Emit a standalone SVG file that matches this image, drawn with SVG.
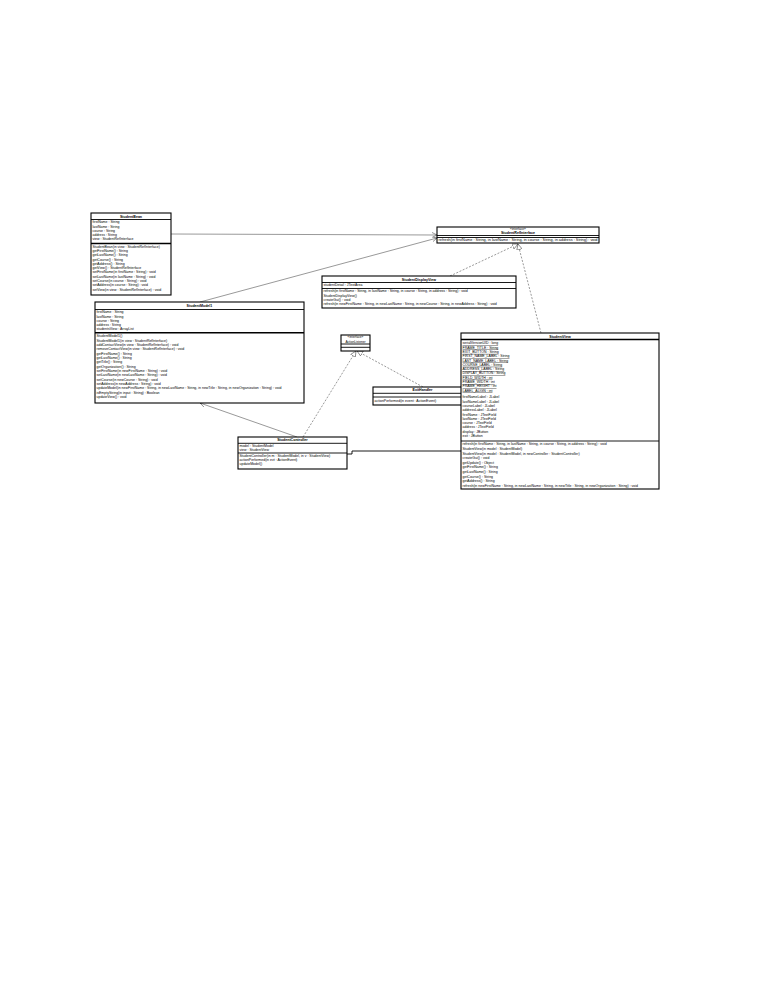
<svg xmlns="http://www.w3.org/2000/svg" width="768" height="994" viewBox="0 0 768 994">
<style>
.bx{fill:#fff;stroke:#000;stroke-width:1.1}
.sp{stroke:#000;stroke-width:0.9}
.sp2{stroke:#000;stroke-width:1.4}
.t{font-family:"Liberation Sans",Arial,sans-serif;font-size:3.5px;fill:#000}
.h{font-family:"Liberation Sans",Arial,sans-serif;font-size:3.6px;font-weight:bold;text-anchor:middle;fill:#000}
.s{font-family:"Liberation Sans",Arial,sans-serif;font-size:3.2px;text-anchor:middle;fill:#000}
.u{text-decoration:underline}
.ln{fill:none;stroke:#333;stroke-width:0.5}
.lk{fill:none;stroke:#000;stroke-width:0.9}
.dl{fill:none;stroke:#333;stroke-width:0.5;stroke-dasharray:2,1.5}
</style>
<defs>
<marker id="op" viewBox="0 0 5 5" refX="5" refY="2.5" markerWidth="5" markerHeight="5" markerUnits="userSpaceOnUse" orient="auto">
<path d="M0,0 L5,2.5 L0,5" fill="none" stroke="#333" stroke-width="0.5"/>
</marker>
<marker id="tr" viewBox="0 0 6 6" refX="6" refY="3" markerWidth="6" markerHeight="6" markerUnits="userSpaceOnUse" orient="auto">
<path d="M0.3,0.3 L6,3 L0.3,5.7 z" fill="#fff" stroke="#333" stroke-width="0.5"/>
</marker>
</defs>
<rect width="768" height="994" fill="#fff"/>

<g id="connectors">
<line class="ln" x1="171" y1="234" x2="437" y2="235" marker-end="url(#op)"/>
<line class="ln" x1="200" y1="302" x2="437" y2="238" marker-end="url(#op)"/>
<line class="dl" x1="450" y1="276" x2="518" y2="244" marker-end="url(#tr)"/>
<line class="dl" x1="541" y1="333" x2="518" y2="244" marker-end="url(#tr)"/>
<line class="ln" x1="297" y1="437" x2="200" y2="403" marker-end="url(#op)"/>
<line class="dl" x1="303" y1="437" x2="356" y2="351" marker-end="url(#tr)"/>
<line class="dl" x1="423" y1="387" x2="357" y2="351" marker-end="url(#tr)"/>
<polyline class="lk" points="347,454 352,454 352,451 461,451"/>
</g>

<g id="StudentBean">
<rect class="bx" x="91" y="213" width="80" height="82"/>
<line class="sp" x1="91" y1="219.5" x2="171" y2="219.5"/>
<line class="sp2" x1="91" y1="243.5" x2="171" y2="243.5"/>
<text class="h" x="131" y="217.6">StudentBean</text>
<text class="t" x="92.5" y="223.3">firstName : String</text>
<text class="t" x="92.5" y="227.5">lastName : String</text>
<text class="t" x="92.5" y="231.7">course : String</text>
<text class="t" x="92.5" y="235.9">address : String</text>
<text class="t" x="92.5" y="240.1">view : StudentRefInterface</text>
<text class="t" x="92.5" y="247.6">StudentBean(in view : StudentRefInterface)</text>
<text class="t" x="92.5" y="251.9">getFirstName() : String</text>
<text class="t" x="92.5" y="256.2">getLastName() : String</text>
<text class="t" x="92.5" y="260.5">getCourse() : String</text>
<text class="t" x="92.5" y="264.8">getAddress() : String</text>
<text class="t" x="92.5" y="269.1">getView() : StudentRefInterface</text>
<text class="t" x="92.5" y="273.4">setFirstName(in firstName : String) : void</text>
<text class="t" x="92.5" y="277.7">setLastName(in lastName : String) : void</text>
<text class="t" x="92.5" y="282.0">setCourse(in course : String) : void</text>
<text class="t" x="92.5" y="286.3">setAddress(in course : String) : void</text>
<text class="t" x="92.5" y="290.6">setView(in view : StudentRefInterface) : void</text>
</g>

<g id="StudentRefInterface">
<rect class="bx" x="437" y="227" width="162" height="16"/>
<line class="sp" x1="437" y1="235.5" x2="599" y2="235.5"/>
<line class="sp" x1="437" y1="237.5" x2="599" y2="237.5"/>
<text class="s" x="518" y="230.2">«interface»</text>
<text class="h" x="518" y="234.3">StudentRefInterface</text>
<text class="t" x="438.5" y="241.3" textLength="159" lengthAdjust="spacingAndGlyphs">refresh(in firstName : String, in lastName : String, in course : String, in address : String) : void</text>
</g>

<g id="StudentDisplayView">
<rect class="bx" x="322" y="276" width="194" height="32"/>
<line class="sp" x1="322" y1="282.5" x2="516" y2="282.5"/>
<line class="sp" x1="322" y1="288.5" x2="516" y2="288.5"/>
<text class="h" x="419" y="280.6">StudentDisplayView</text>
<text class="t" x="323.5" y="286.3">studentDetail : JTextArea</text>
<text class="t" x="323.5" y="292.3">refresh(in firstName : String, in lastName : String, in course : String, in address : String) : void</text>
<text class="t" x="323.5" y="296.5">StudentDisplayView()</text>
<text class="t" x="323.5" y="300.7">createGui() : void</text>
<text class="t" x="323.5" y="305.1">refresh(in newFirstName : String, in newLastName : String, in newCourse : String, in newAddress : String) : void</text>
</g>

<g id="StudentModel1">
<rect class="bx" x="95" y="302" width="209" height="101"/>
<line class="sp" x1="95" y1="309.5" x2="304" y2="309.5"/>
<line class="sp2" x1="95" y1="332.8" x2="304" y2="332.8"/>
<text class="h" x="199.5" y="307.3">StudentModel1</text>
<text class="t" x="96.5" y="313.3">firstName : String</text>
<text class="t" x="96.5" y="317.5">lastName : String</text>
<text class="t" x="96.5" y="321.7">course : String</text>
<text class="t" x="96.5" y="325.9">address : String</text>
<text class="t" x="96.5" y="330.1">studentsView : ArrayList</text>
<text class="t" x="96.5" y="337.2">StudentModel1()</text>
<text class="t" x="96.5" y="341.55">StudentModel1(in view : StudentRefInterface)</text>
<text class="t" x="96.5" y="345.9">addContactView(in view : StudentRefInterface) : void</text>
<text class="t" x="96.5" y="350.25">removeContactView(in view : StudentRefInterface) : void</text>
<text class="t" x="96.5" y="354.6">getFirstName() : String</text>
<text class="t" x="96.5" y="358.95">getLastName() : String</text>
<text class="t" x="96.5" y="363.3">getTitle() : String</text>
<text class="t" x="96.5" y="367.65">getOrganization() : String</text>
<text class="t" x="96.5" y="372.0">setFirstName(in newFirstName : String) : void</text>
<text class="t" x="96.5" y="376.35">setLastName(in newLastName : String) : void</text>
<text class="t" x="96.5" y="380.7">setCourse(in newCourse : String) : void</text>
<text class="t" x="96.5" y="385.05">setAddress(in newAddress : String) : void</text>
<text class="t" x="96.5" y="389.4">updateModel(in newFirstName : String, in newLastName : String, in newTitle : String, in newOrganization : String) : void</text>
<text class="t" x="96.5" y="393.75">isEmptyString(in input : String) : Boolean</text>
<text class="t" x="96.5" y="398.1">updateView() : void</text>
</g>

<g id="ActionListener">
<rect class="bx" x="341" y="335" width="29" height="16"/>
<line class="sp" x1="341" y1="344" x2="370" y2="344"/>
<line class="sp" x1="341" y1="347.3" x2="370" y2="347.3"/>
<text class="s" x="355.5" y="338.3">«interface»</text>
<text class="s" x="355.5" y="342.5">ActionListener</text>
</g>

<g id="ExitHandler">
<rect class="bx" x="373" y="387" width="99" height="18"/>
<line class="sp" x1="373" y1="393.3" x2="472" y2="393.3"/>
<line class="sp" x1="373" y1="397" x2="472" y2="397"/>
<text class="h" x="422.5" y="391.4">ExitHandler</text>
<text class="t" x="374.5" y="401.5">actionPerformed(in event : ActionEvent)</text>
</g>

<g id="StudentController">
<rect class="bx" x="238" y="437" width="109" height="32"/>
<line class="sp" x1="238" y1="443.3" x2="347" y2="443.3"/>
<line class="sp" x1="238" y1="453" x2="347" y2="453"/>
<text class="h" x="292.5" y="441.4">StudentController</text>
<text class="t" x="239.5" y="447.2">model : StudentModel</text>
<text class="t" x="239.5" y="451.3">view : StudentView</text>
<text class="t" x="239.5" y="457">StudentController(in m : StudentModel, in v : StudentView)</text>
<text class="t" x="239.5" y="461.2">actionPerformed(in evt : ActionEvent)</text>
<text class="t" x="239.5" y="465.4">updateModel()</text>
</g>

<g id="StudentView">
<rect class="bx" x="461" y="333" width="198" height="156"/>
<line class="sp2" x1="461" y1="339.5" x2="659" y2="339.5"/>
<line class="sp" x1="461" y1="441" x2="659" y2="441"/>
<text class="h" x="560" y="337.6">StudentView</text>
<text class="t u" x="462.5" y="344.3">serialVersionUID : long</text>
<text class="t u" x="462.5" y="348.6">FRAME_TITLE : String</text>
<text class="t u" x="462.5" y="352.9">EXIT_BUTTON : String</text>
<text class="t u" x="462.5" y="357.2">FIRST_NAME_LABEL : String</text>
<text class="t u" x="462.5" y="361.5">LAST_NAME_LABEL : String</text>
<text class="t u" x="462.5" y="365.8">COURSE_LABEL : String</text>
<text class="t u" x="462.5" y="370.1">ADDRESS_LABEL : String</text>
<text class="t u" x="462.5" y="374.4">DISPLAY_BUTTON : String</text>
<text class="t u" x="462.5" y="378.7">FIELD_WIDTH : int</text>
<text class="t u" x="462.5" y="383.0">FRAME_WIDTH : int</text>
<text class="t u" x="462.5" y="387.3">FRAME_HEIGHT : int</text>
<text class="t u" x="462.5" y="391.6">LABEL_ALIGN : int</text>
<text class="t" x="462.5" y="398.3">firstNameLabel : JLabel</text>
<text class="t" x="462.5" y="402.6">lastNameLabel : JLabel</text>
<text class="t" x="462.5" y="406.9">courseLabel : JLabel</text>
<text class="t" x="462.5" y="411.2">addressLabel : JLabel</text>
<text class="t" x="462.5" y="415.5">firstName : JTextField</text>
<text class="t" x="462.5" y="419.8">lastName : JTextField</text>
<text class="t" x="462.5" y="424.1">course : JTextField</text>
<text class="t" x="462.5" y="428.4">address : JTextField</text>
<text class="t" x="462.5" y="432.7">display : JButton</text>
<text class="t" x="462.5" y="437.0">exit : JButton</text>
<text class="t" x="462.5" y="445.3">refresh(in firstName : String, in lastName : String, in course : String, in address : String) : void</text>
<text class="t" x="462.5" y="449.9">StudentView(in model : StudentModel)</text>
<text class="t" x="462.5" y="454.5">StudentView(in model : StudentModel, in newController : StudentController)</text>
<text class="t" x="462.5" y="459.1">createGui() : void</text>
<text class="t" x="462.5" y="463.7">getUpdate() : Object</text>
<text class="t" x="462.5" y="468.3">getFirstName() : String</text>
<text class="t" x="462.5" y="472.9">getLastName() : String</text>
<text class="t" x="462.5" y="477.5">getCourse() : String</text>
<text class="t" x="462.5" y="482.1">getAddress() : String</text>
<text class="t" x="462.5" y="486.7">refresh(in newFirstName : String, in newLastName : String, in newTitle : String, in newOrganization : String) : void</text>
</g>
</svg>
